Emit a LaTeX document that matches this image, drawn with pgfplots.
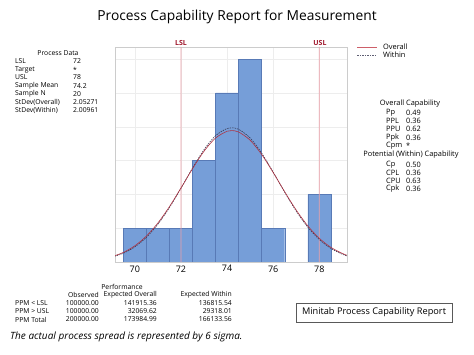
\documentclass[border=0pt]{standalone}
\usepackage{pgfplots}
\pgfplotsset{compat=1.18}
\usepackage{fontspec}
\setmainfont{Open Sans}
\definecolor{barfill}{RGB}{118,158,216}
\definecolor{baredge}{RGB}{88,122,182}
\definecolor{overallc}{RGB}{175,50,65}
\definecolor{withinc}{RGB}{55,55,80}
\definecolor{speclc}{RGB}{236,160,168}
\definecolor{legred}{RGB}{205,95,105}
\definecolor{spectxt}{RGB}{160,25,45}
\newcommand{\sm}{\fontsize{6.8}{8}\selectfont}
\newcommand{\rs}{\fontsize{7.4}{8.5}\selectfont}
\begin{document}
\begin{tikzpicture}
\path[use as bounding box, fill=white] (0pt,0pt) rectangle (474pt,-355pt);
% title
\node[font=\fontsize{13.8}{15}\selectfont] at (237pt,-17pt) {Process Capability Report for Measurement};
% process data
\node[font=\sm] at (58pt,-53pt) {Process Data};
\foreach \lab/\val/\yy in {LSL/72/61.5, Target/*/69.5, USL/78/77.5, Sample Mean/74.2/86, Sample N/20/94, StDev(Overall)/2.05271/102, StDev(Within)/2.00961/110}{
  \node[font=\sm, anchor=west, inner sep=0] at (15pt,-\yy pt) {\lab};
  \node[font=\sm, anchor=west, inner sep=0] at (73pt,-\yy pt) {\val};
}
% legend
\fill[legred] (357pt,-47.45pt) rectangle (377pt,-46.55pt);
\foreach \xx in {357,359.5,...,375}{\fill[withinc!80] (\xx pt,-55.4pt) rectangle ({\xx pt+1.5pt},-54.6pt);}
\node[font=\rs, anchor=west, inner sep=0] at (383pt,-47pt) {Overall};
\node[font=\rs, anchor=west, inner sep=0] at (383pt,-55pt) {Within};
\node[font=\rs] at (410pt,-104pt) {Overall Capability};
\foreach \lab/\val/\yy in {Pp/0.49/113, PPL/0.36/121, PPU/0.62/129, Ppk/0.36/138, Cpm/*/146, Cp/0.50/165, CPL/0.36/173, CPU/0.63/181, Cpk/0.36/189}{
  \node[font=\rs, anchor=west, inner sep=0] at (386pt,-\yy pt) {\lab};
  \node[font=\rs, anchor=west, inner sep=0] at (406pt,-\yy pt) {\val};
}
\node[font=\rs] at (411pt,-155pt) {Potential (Within) Capability};
% performance
\node[font=\sm] at (122pt,-286.5pt) {Performance};
\node[font=\sm, anchor=east, inner sep=0] at (99pt,-295pt) {Observed};
\node[font=\sm, anchor=east, inner sep=0] at (157pt,-295pt) {Expected Overall};
\node[font=\sm, anchor=east, inner sep=0] at (232pt,-295pt) {Expected Within};
\foreach \lab/\a/\b/\c/\yy in {PPM < LSL/100000.00/141915.36/136815.54/303, PPM > USL/100000.00/32069.62/29318.01/311, PPM Total/200000.00/173984.99/166133.56/319.5}{
  \node[font=\sm, anchor=west, inner sep=0] at (15pt,-\yy pt) {\lab};
  \node[font=\sm, anchor=east, inner sep=0] at (99pt,-\yy pt) {\a};
  \node[font=\sm, anchor=east, inner sep=0] at (157pt,-\yy pt) {\b};
  \node[font=\sm, anchor=east, inner sep=0] at (232pt,-\yy pt) {\c};
}
% minitab box
\draw[gray!70!black, line width=0.5pt] (296pt,-303pt) rectangle (452pt,-322pt);
\node[font=\fontsize{9.2}{10}\selectfont] at (374pt,-312.5pt) {Minitab Process Capability Report};
% footnote
\node[font=\fontsize{10}{11}\selectfont\itshape, anchor=west, inner sep=0] at (10pt,-337pt) {The actual process spread is represented by 6 sigma.};
\begin{axis}[
  at={(115pt,-47pt)}, anchor=north west, scale only axis,
  width=232pt, height=215pt,
  xmin=69.14, xmax=79.2, ymin=0, ymax=6.36,
  axis line style={gray!40, line width=0.5pt},
  xtick={70,72,74,76,78}, minor xtick={71,73,75,77},
  ytick={1,2,3,4,5,6}, yticklabels={},
  ymajorgrids, xmajorgrids,
  grid style={gray!14, line width=0.4pt},
  major tick length=0pt, minor tick length=0pt,
  /pgf/number format/assume math mode=true,
  xticklabel style={font=\fontsize{9}{10}\selectfont},
  clip=true,
]
\addplot[ybar, bar width=1, bar shift=0pt, fill=barfill, draw=baredge, line width=0.4pt]
  coordinates {(70,1) (71,1) (72,1) (73,3) (74,5) (75,6) (76,1) (78,2)};
\addplot[ybar, bar width=0.7pt, bar shift=0pt, fill=speclc, draw=none]
  coordinates {(72,6.36) (78,6.36)};
\addplot[color=withinc, no marks, line width=0.6pt, dash pattern=on 1.5pt off 1pt, smooth] coordinates {
(69.0,0.1396) (69.5,0.2577) (70.0,0.4470) (70.5,0.7290) (71.0,1.1175) (71.5,1.6101)
(72.0,2.1807) (72.5,2.7762) (73.0,3.3221) (73.5,3.7367) (74.0,3.9508) (74.2,3.9704)
(74.5,3.9264) (75.0,3.6679) (75.5,3.2208) (76.0,2.6584) (76.5,2.0625) (77.0,1.5041)
(77.5,1.0311) (78.0,0.6644) (78.5,0.4024) (79.0,0.2291) (79.2,0.1797)};
\addplot[color=overallc, no marks, line width=0.6pt, smooth] coordinates {
(69.0,0.1571) (69.5,0.2826) (70.0,0.4792) (70.5,0.7657) (71.0,1.1532) (71.5,1.6366)
(72.0,2.1887) (72.5,2.7585) (73.0,3.2765) (73.5,3.6675) (74.0,3.8686) (74.2,3.8870)
(74.5,3.8457) (75.0,3.6027) (75.5,3.1807) (76.0,2.6463) (76.5,2.0750) (77.0,1.5331)
(77.5,1.0675) (78.0,0.7006) (78.5,0.4332) (79.0,0.2525) (79.2,0.2001)};
\end{axis}
\node[font=\fontsize{7}{8}\selectfont\bfseries, text=spectxt] at (181pt,-43pt) {LSL};
\node[font=\fontsize{7}{8}\selectfont\bfseries, text=spectxt] at (320pt,-43pt) {USL};
\end{tikzpicture}
\end{document}
